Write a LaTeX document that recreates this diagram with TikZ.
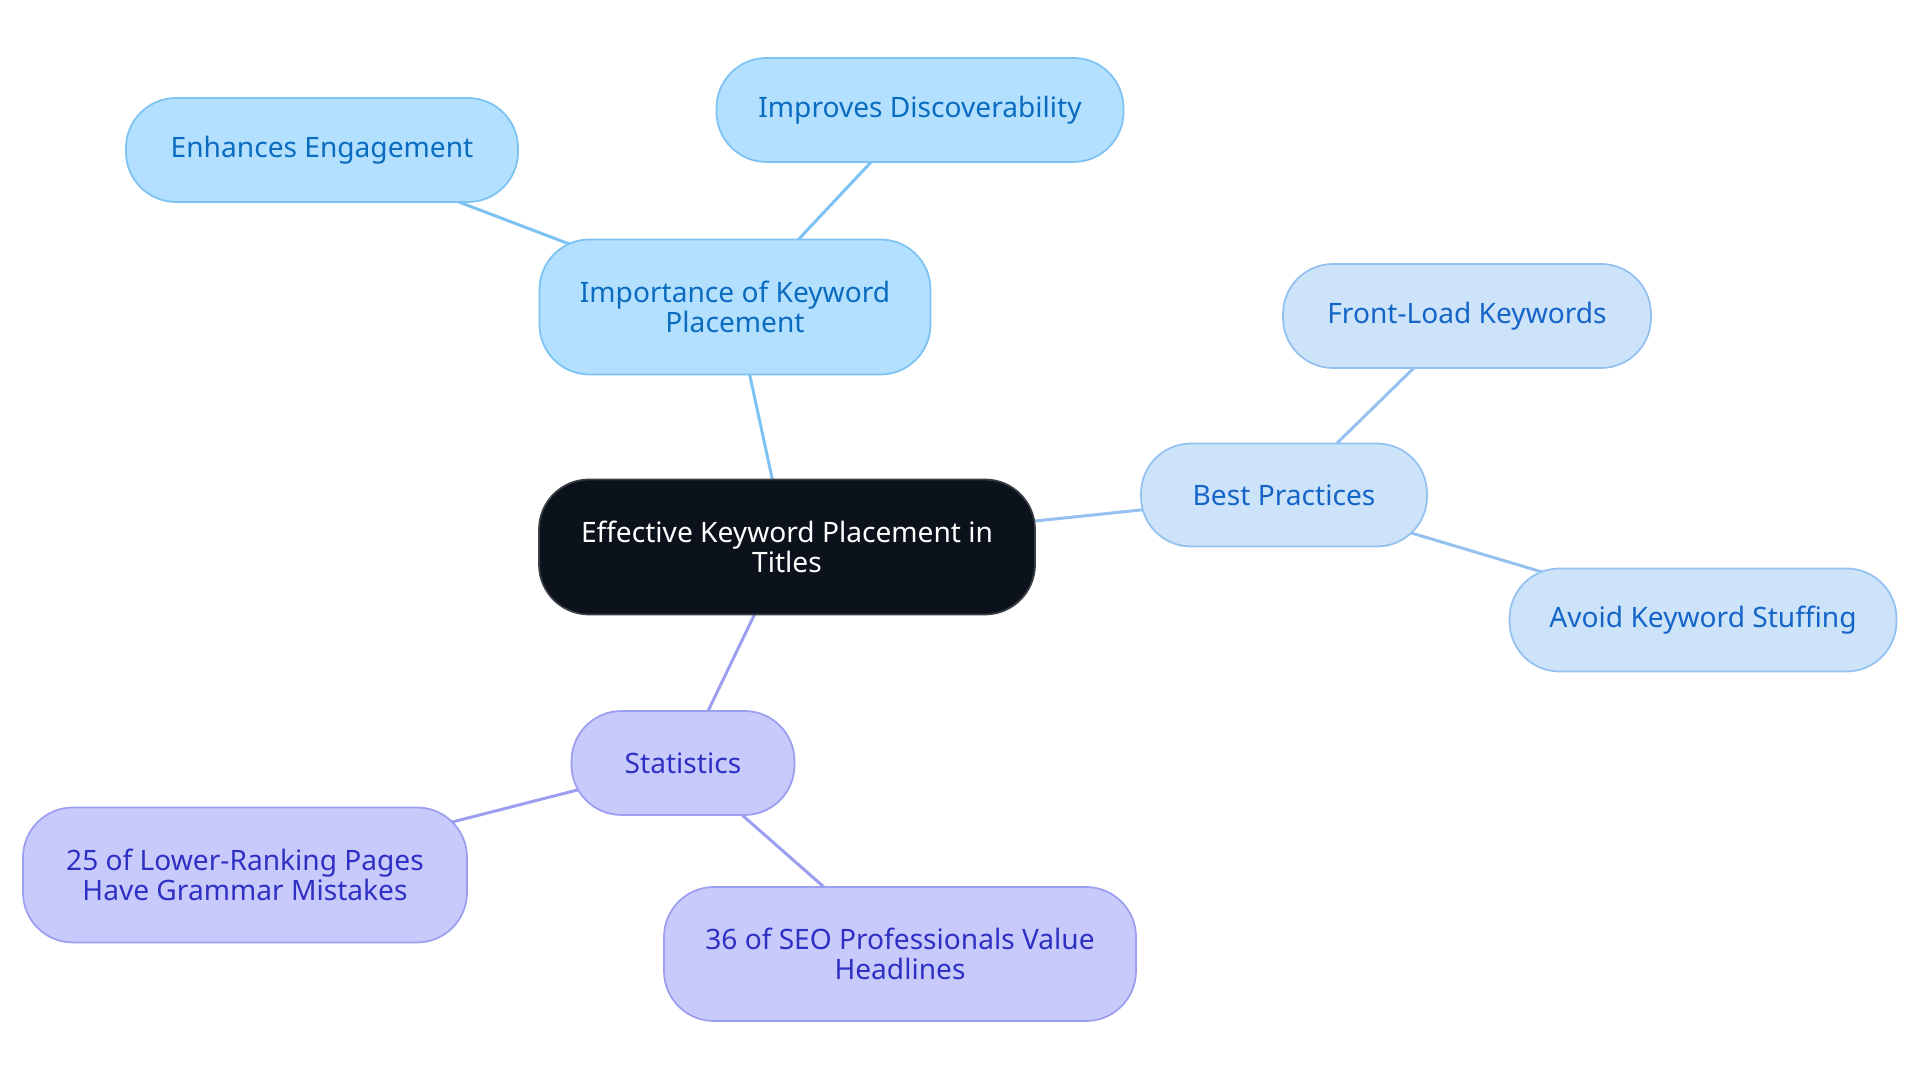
\documentclass[tikz,border=0pt]{standalone}
\usepackage{fontspec}
\setmainfont{Noto Sans}
\usepackage{tikz}
\usetikzlibrary{positioning, backgrounds}

\definecolor{rootfill}{HTML}{0B121B}
\definecolor{rootline}{HTML}{3A3F45}
\definecolor{skyfill}{HTML}{B3E0FF}
\definecolor{skyline}{HTML}{7CC2F2}
\definecolor{skytext}{HTML}{0A6CC0}
\definecolor{palefill}{HTML}{CCE3FA}
\definecolor{paleline}{HTML}{94C1F0}
\definecolor{paletext}{HTML}{1565C8}
\definecolor{lilacfill}{HTML}{C9CAFC}
\definecolor{lilacline}{HTML}{9C9EF0}
\definecolor{lilactext}{HTML}{2E30C4}

\begin{document}
\begin{tikzpicture}[
  topic/.style={draw, line width=1pt, rounded corners=1cm, align=center, font=\fontsize{16}{17.5}\selectfont, inner sep=0pt},
  rootbox/.style={topic, fill=rootfill, draw=rootline, text=white},
  skybox/.style={topic, fill=skyfill, draw=skyline, text=skytext},
  palebox/.style={topic, fill=palefill, draw=paleline, text=paletext},
  lilacbox/.style={topic, fill=lilacfill, draw=lilacline, text=lilactext},
  link/.style={line width=1.7pt}
]
\useasboundingbox (0,0) rectangle (38.4,21.66);

\node[rootbox, minimum width=9.92cm, minimum height=2.7cm] (root) at (15.74, 10.72) {Effective Keyword Placement in\\Titles};

% importance branch
\node[skybox, minimum width=7.82cm, minimum height=2.7cm] (importance) at (14.70, 15.52) {Importance of Keyword\\Placement};
\node[skybox, minimum width=7.84cm, minimum height=2.08cm] (engage) at (6.44, 18.66) {Enhances Engagement};
\node[skybox, minimum width=8.14cm, minimum height=2.08cm] (discover) at (18.40, 19.46) {Improves Discoverability};

% best practices branch
\node[palebox, minimum width=5.72cm, minimum height=2.06cm] (practices) at (25.68, 11.76) {Best Practices};
\node[palebox, minimum width=7.36cm, minimum height=2.08cm] (frontload) at (29.34, 15.34) {Front-Load Keywords};
\node[palebox, minimum width=7.74cm, minimum height=2.06cm] (stuffing) at (34.06, 9.26) {Avoid Keyword Stuffing};

% statistics branch
\node[lilacbox, minimum width=4.46cm, minimum height=2.08cm] (stats) at (13.66, 6.40) {Statistics};
\node[lilacbox, minimum width=8.88cm, minimum height=2.7cm] (grammar) at (4.90, 4.16) {25 of Lower-Ranking Pages\\Have Grammar Mistakes};
\node[lilacbox, minimum width=9.44cm, minimum height=2.68cm] (headlines) at (18.00, 2.58) {36 of SEO Professionals Value\\Headlines};

% links, behind the boxes
\begin{scope}[on background layer]
\draw[link, draw=skyline] (root.center) -- (importance.center);
\draw[link, draw=skyline] (importance.center) -- (engage.center);
\draw[link, draw=skyline] (importance.center) -- (discover.center);
\draw[link, draw=paleline] (root.center) -- (practices.center);
\draw[link, draw=paleline] (practices.center) -- (frontload.center);
\draw[link, draw=paleline] (practices.center) -- (stuffing.center);
\draw[link, draw=lilacline] (root.center) -- (stats.center);
\draw[link, draw=lilacline] (stats.center) -- (grammar.center);
\draw[link, draw=lilacline] (stats.center) -- (headlines.center);
\end{scope}
\end{tikzpicture}
\end{document}
